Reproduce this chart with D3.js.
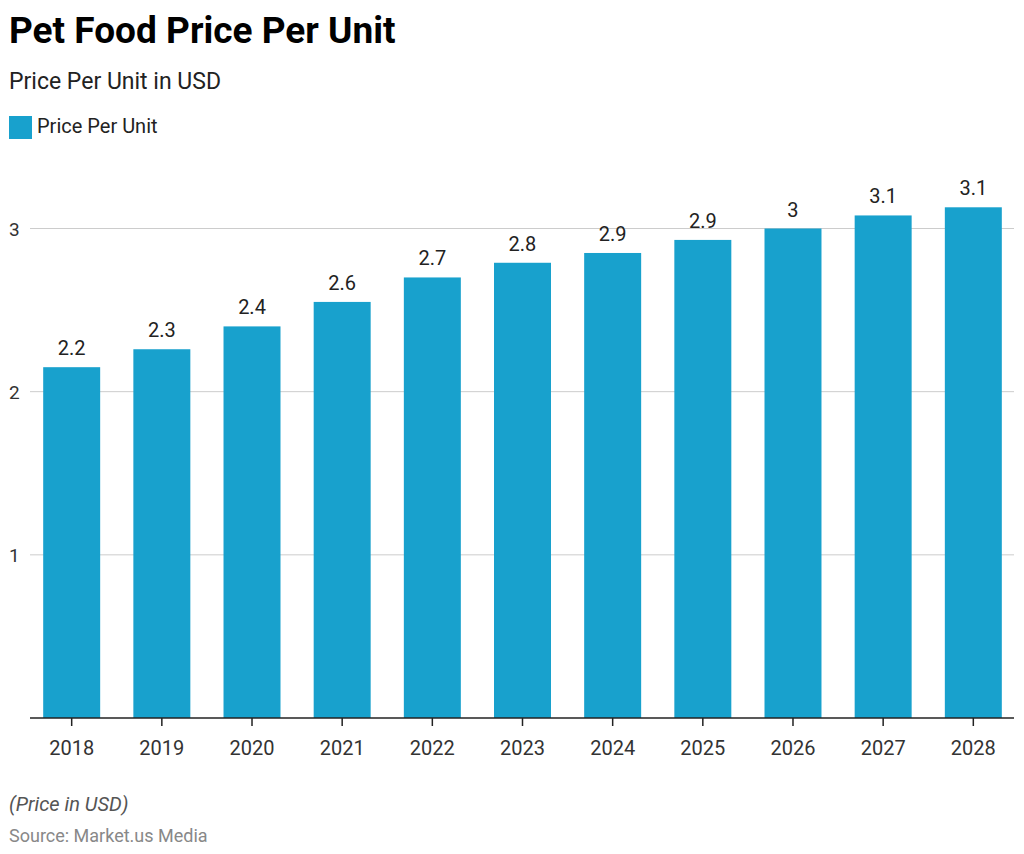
<!DOCTYPE html>
<html><head><meta charset="utf-8">
<script src="https://cdn.jsdelivr.net/npm/d3@7"></script>
<style>body{margin:0;background:#fff;font-family:Roboto,sans-serif;}</style>
</head><body><svg id="c" width="1024" height="854"></svg>
<script>
const categories = ["2018","2019","2020","2021","2022","2023","2024","2025","2026","2027","2028"];
const values = [2.15, 2.26, 2.40, 2.55, 2.70, 2.79, 2.85, 2.93, 3.00, 3.08, 3.13];
const labels = ["2.2","2.3","2.4","2.6","2.7","2.8","2.9","2.9","3","3.1","3.1"];
const yTicks = [1, 2, 3];

const svg = d3.select("#c");
const color = "#18a1cd";
const x = d3.scaleBand().domain(categories).range([26.6, 1018.4]).paddingInner(0.368).paddingOuter(0.184);
const y = d3.scaleLinear().domain([0, 3]).range([718, 228.5]);

svg.append("text").attr("x", 9).attr("y", 43).attr("font-size", 37).attr("font-weight", 700).attr("fill", "#000").text("Pet Food Price Per Unit");
svg.append("text").attr("x", 9).attr("y", 89).attr("font-size", 23).attr("fill", "#222").text("Price Per Unit in USD");
svg.append("rect").attr("x", 9).attr("y", 116).attr("width", 23).attr("height", 23).attr("fill", color);
svg.append("text").attr("x", 37).attr("y", 133).attr("font-size", 20).attr("fill", "#222").text("Price Per Unit");

// grid
svg.append("g").selectAll("line").data(yTicks).join("line")
  .attr("x1", 30).attr("x2", 1014).attr("y1", d => y(d)).attr("y2", d => y(d))
  .attr("stroke", "#ccc").attr("stroke-width", 1);
svg.append("g").selectAll("text").data(yTicks).join("text")
  .attr("x", 9).attr("y", d => y(d) + 7).attr("font-size", 19).attr("fill", "#333").text(d => d);

svg.append("g").selectAll("rect").data(values).join("rect")
  .attr("x", (d, i) => x(categories[i])).attr("width", x.bandwidth())
  .attr("y", d => y(d)).attr("height", d => y(0) - y(d)).attr("fill", color);

svg.append("g").selectAll("text").data(values).join("text")
  .attr("x", (d, i) => x(categories[i]) + x.bandwidth() / 2).attr("y", d => y(d) - 12)
  .attr("text-anchor", "middle").attr("font-size", 20).attr("fill", "#222").text((d, i) => labels[i]);

const xAxis = svg.append("g").attr("transform", `translate(0,${y(0)})`)
  .call(d3.axisBottom(x).tickSize(8).tickSizeOuter(0));
xAxis.select(".domain").attr("stroke", "#222").attr("stroke-width", 1.5).attr("d", "M30,0H1014");
xAxis.selectAll(".tick line").attr("stroke", "#222").attr("stroke-width", 1.5);
xAxis.selectAll(".tick text").attr("font-family", "Roboto").attr("font-size", 20).attr("fill", "#333").attr("dy", "1.3em");

svg.append("text").attr("x", 9).attr("y", 811).attr("font-size", 20).attr("font-style", "italic").attr("fill", "#555").text("(Price in USD)");
svg.append("text").attr("x", 9).attr("y", 842).attr("font-size", 18).attr("fill", "#888").text("Source: Market.us Media");
</script></body></html>
